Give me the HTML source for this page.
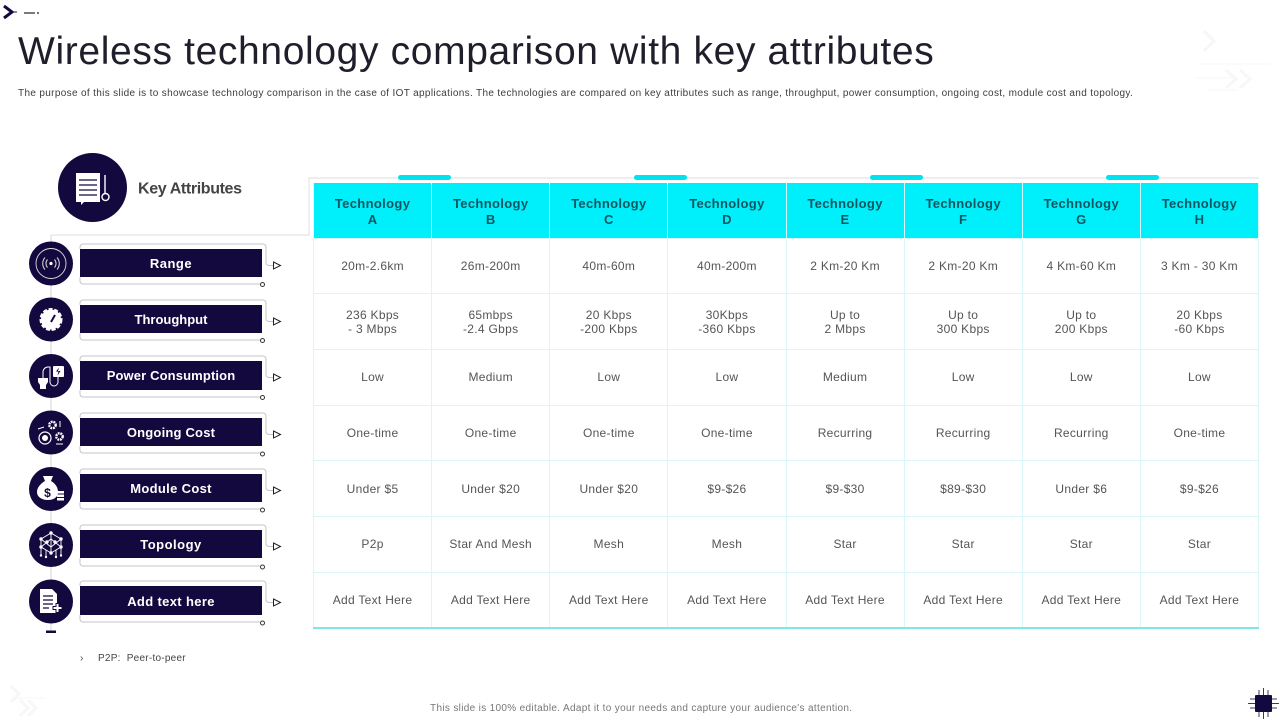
<!DOCTYPE html>
<html lang="en">
<head>
<meta charset="utf-8">
<title>Wireless technology comparison with key attributes</title>
<style>
html,body{margin:0;padding:0;background:#fff;}
body{width:1280px;height:720px;position:relative;overflow:hidden;font-family:"Liberation Sans",sans-serif;}
.abs{position:absolute;white-space:nowrap;}
#title{left:18px;top:30px;font-size:39px;line-height:44px;color:#1f1f2b;letter-spacing:.64px;}
#subtitle{left:18px;top:87px;font-size:10px;line-height:13px;color:#3d3d3d;letter-spacing:.34px;}
#deco{position:absolute;left:0;top:0;}
#deco text{font-family:"Liberation Sans",sans-serif;}
table{position:absolute;left:313px;top:183px;width:946px;height:445.5px;border-collapse:collapse;table-layout:fixed;}
th,td{text-align:center;vertical-align:middle;padding:0;}
th{background:#00f0fb;color:#0c5660;font-size:13px;line-height:16px;font-weight:bold;letter-spacing:.35px;height:55px;box-sizing:border-box;padding-top:3px;border-left:1px solid #d8fbfd;border-right:1px solid #d8fbfd;}
td{color:#555;font-size:12px;line-height:14px;letter-spacing:.3px;border:1px solid #d9f7f9;height:55.7px;box-sizing:border-box;}
tr:last-child td{border-bottom:2px solid #7fe6ea;}
#note{left:98px;top:652px;font-size:10px;line-height:13px;color:#444;letter-spacing:.25px;}
#note-mark{left:80px;top:652px;font-size:10px;line-height:13px;color:#444;}
#footer{left:430px;top:702px;font-size:10px;line-height:13px;color:#777;letter-spacing:.33px;}
</style>
</head>
<body>
<div class="abs" id="title">Wireless technology comparison with key attributes</div>
<div class="abs" id="subtitle">The purpose of this slide is to showcase technology comparison in the case of IOT applications. The technologies are compared on key attributes such as range, throughput, power consumption, ongoing cost, module cost and topology.</div>

<svg id="deco" width="1280" height="720" viewBox="0 0 1280 720">
  <g>
    <path d="M4 6 L12 12 L4 18" fill="none" stroke="#14093f" stroke-width="3"/>
    <path d="M14 12h3" stroke="#8a86a5" stroke-width="2"/>
    <path d="M24 13h11" stroke="#222" stroke-width="1.2"/>
    <circle cx="38" cy="13" r="1" fill="#444"/>
  </g>
  <g fill="none" stroke="#f7f7f8" stroke-width="3">
    <path d="M1204 31l10 10l-10 10"/><path d="M1226 70l10 9l-10 9"/><path d="M1240 70l10 9l-10 9"/>
    <path d="M1200 64h70M1196 78h36M1208 90h30" stroke-width="1"/>
  </g>
  <g fill="none" stroke="#f7f7f8" stroke-width="3">
    <path d="M11 686l8 8l-8 8"/><path d="M20 700l8 8l-8 8"/><path d="M28 700l8 8l-8 8"/>
    <path d="M12 698h34" stroke-width="1"/>
  </g>

  <path d="M51 235H309V178H1259" fill="none" stroke="#e4e4e4" stroke-width="1.2"/>
  <path d="M51 235V632" fill="none" stroke="#dcdcdc" stroke-width="1.2"/>
  <rect x="46" y="630.5" width="10" height="2.5" fill="#14093f"/>

  <rect x="398" y="175" width="53" height="5" rx="2.5" fill="#00e3ee"/>
  <rect x="634" y="175" width="53" height="5" rx="2.5" fill="#00e3ee"/>
  <rect x="870" y="175" width="53" height="5" rx="2.5" fill="#00e3ee"/>
  <rect x="1106" y="175" width="53" height="5" rx="2.5" fill="#00e3ee"/>

  <g>
    <circle cx="92.5" cy="187.5" r="34.5" fill="#14093f"/>
    <path d="M76 173h24v29H84l-3 3v-3h-5z" fill="#fff"/>
    <path d="M79 180h18M79 185h18M79 190h18M79 195h18" stroke="#14093f" stroke-width="1.2"/>
    <path d="M105 175v18" stroke="#fff" stroke-width="1.4"/>
    <circle cx="105.500" cy="197" r="3.500" fill="none" stroke="#fff" stroke-width="1.4"/>
    <text x="138" y="193.500" font-size="16" font-weight="bold" fill="#444" textLength="104">Key Attributes</text>
  </g>

  <!-- Range -->
  <g>
    <circle cx="51" cy="263.500" r="22" fill="#14093f"/>
    <circle cx="51" cy="263.500" r="15" fill="none" stroke="#ddd" stroke-width=".9"/>
    <circle cx="51" cy="263.500" r="1.600" fill="#fff"/>
    <path d="M47.500 259.500a6 6 0 0 0 0 8M54.500 259.500a6 6 0 0 1 0 8M45 257.500a9 9 0 0 0 0 12M57 257.500a9 9 0 0 1 0 12" fill="none" stroke="#ddd" stroke-width="1"/>
    <path d="M80 249v-2a3 3 0 0 1 3-3H263a3 3 0 0 1 3 3v15.500a3 3 0 0 0 3 3h4M80 277v4a3 3 0 0 0 3 3H260" fill="none" stroke="#c4c4c4" stroke-width="1"/>
    <rect x="80" y="249" width="182" height="28" fill="#14093f"/>
    <text x="171" y="268" text-anchor="middle" font-size="13" font-weight="bold" fill="#fff" letter-spacing=".5">Range</text>
    <circle cx="262.500" cy="284.500" r="2" fill="#fff" stroke="#333"/>
    <path d="M273.500 262l7 3.500l-7 3.500z" fill="#fff" stroke="#222"/>
  </g>
  <!-- Throughput -->
  <g>
    <circle cx="51" cy="319.500" r="22" fill="#14093f"/>
    <circle cx="51" cy="319.500" r="9" fill="none" stroke="#fff" stroke-width="5" stroke-dasharray="3.500 1.500"/>
    <circle cx="51" cy="319.500" r="10" fill="#fff"/>
    <path d="M51 322l4-7" stroke="#14093f" stroke-width="2"/>
    <path d="M80 305v-2a3 3 0 0 1 3-3H263a3 3 0 0 1 3 3v15.500a3 3 0 0 0 3 3h4M80 333v4a3 3 0 0 0 3 3H260" fill="none" stroke="#c4c4c4" stroke-width="1"/>
    <rect x="80" y="305" width="182" height="28" fill="#14093f"/>
    <text x="171" y="324" text-anchor="middle" font-size="13" font-weight="bold" fill="#fff" letter-spacing="0">Throughput</text>
    <circle cx="262.500" cy="340.500" r="2" fill="#fff" stroke="#333"/>
    <path d="M273.500 318l7 3.500l-7 3.500z" fill="#fff" stroke="#222"/>
  </g>
  <!-- Power Consumption -->
  <g>
    <circle cx="51" cy="376" r="22" fill="#14093f"/>
    <path d="M38 378h10v4l-2 3v4h-6v-4l-2-3z" fill="#fff"/>
    <path d="M43 378v-6a5 5 0 0 1 5-5h2v15a4 4 0 0 0 8 0v-6" fill="none" stroke="#fff" stroke-width="1"/>
    <rect x="53" y="366" width="11" height="11" rx="1" fill="#fff"/>
    <path d="M59 367.500l-3 4h2.500l-1 4l3-4.500h-2.500z" fill="#14093f"/>
    <path d="M80 361v-2a3 3 0 0 1 3-3H263a3 3 0 0 1 3 3v15.500a3 3 0 0 0 3 3h4M80 390v4a3 3 0 0 0 3 3H260" fill="none" stroke="#c4c4c4" stroke-width="1"/>
    <rect x="80" y="361" width="182" height="29" fill="#14093f"/>
    <text x="171" y="380" text-anchor="middle" font-size="13" font-weight="bold" fill="#fff" letter-spacing=".13">Power Consumption</text>
    <circle cx="262.500" cy="397.500" r="2" fill="#fff" stroke="#333"/>
    <path d="M273.500 374l7 3.500l-7 3.500z" fill="#fff" stroke="#222"/>
  </g>
  <!-- Ongoing Cost -->
  <g>
    <circle cx="51" cy="432.500" r="22" fill="#14093f"/>
    <circle cx="45" cy="438" r="6" fill="none" stroke="#fff" stroke-width="1.200"/>
    <circle cx="45" cy="438" r="3" fill="#fff"/>
    <circle cx="52.500" cy="425" r="3.200" fill="none" stroke="#fff" stroke-width="2.400" stroke-dasharray="1.800 .8"/>
    <circle cx="59.500" cy="436.500" r="3.200" fill="none" stroke="#fff" stroke-width="2.400" stroke-dasharray="1.800 .8"/>
    <path d="M38 429l6-2M60 421v6M56 444h7" stroke="#fff" stroke-width="1"/>
    <path d="M80 418v-2a3 3 0 0 1 3-3H263a3 3 0 0 1 3 3v15.500a3 3 0 0 0 3 3h4M80 446v4a3 3 0 0 0 3 3H260" fill="none" stroke="#c4c4c4" stroke-width="1"/>
    <rect x="80" y="418" width="182" height="28" fill="#14093f"/>
    <text x="171" y="437" text-anchor="middle" font-size="13" font-weight="bold" fill="#fff" letter-spacing=".2">Ongoing Cost</text>
    <circle cx="262.500" cy="454" r="2" fill="#fff" stroke="#333"/>
    <path d="M273.500 431l7 3.500l-7 3.500z" fill="#fff" stroke="#222"/>
  </g>
  <!-- Module Cost -->
  <g>
    <circle cx="51" cy="489" r="22" fill="#14093f"/>
    <path d="M43 476h10l-2 5c5 3 7 7 7 11c0 5-4 8-10 8s-11-3-11-8c0-4 3-8 8-11z" fill="#fff"/>
    <text x="47.500" y="497" text-anchor="middle" font-size="12" font-weight="bold" fill="#14093f">$</text>
    <path d="M57 491h7v2.500h-7zM57 494.500h7v2.500h-7zM57 498h7v2.500h-7z" fill="#fff"/>
    <path d="M80 474v-2a3 3 0 0 1 3-3H263a3 3 0 0 1 3 3v15.500a3 3 0 0 0 3 3h4M80 502v4a3 3 0 0 0 3 3H260" fill="none" stroke="#c4c4c4" stroke-width="1"/>
    <rect x="80" y="474" width="182" height="28" fill="#14093f"/>
    <text x="171" y="493" text-anchor="middle" font-size="13" font-weight="bold" fill="#fff" letter-spacing=".33">Module Cost</text>
    <circle cx="262.500" cy="510" r="2" fill="#fff" stroke="#333"/>
    <path d="M273.500 487l7 3.500l-7 3.500z" fill="#fff" stroke="#222"/>
  </g>
  <!-- Topology -->
  <g>
    <circle cx="51" cy="545" r="22" fill="#14093f"/>
    <path d="M51 533l10 6v8l-10 6l-10-6v-8zM41 539l10 8l10-8M51 533v20M41 547l10-8l10 8M41 547v8M61 547v8M46 550v7M56 550v7" fill="none" stroke="#fff" stroke-width=".9"/>
    <g fill="#fff"><circle cx="51" cy="533" r="1.700"/><circle cx="41" cy="539" r="1.700"/><circle cx="61" cy="539" r="1.700"/><circle cx="41" cy="547" r="1.700"/><circle cx="61" cy="547" r="1.700"/><circle cx="51" cy="553" r="1.700"/><circle cx="47" cy="542" r="1.700"/><circle cx="55" cy="542" r="1.700"/><circle cx="41" cy="555.500" r="1.200"/><circle cx="61" cy="555.500" r="1.200"/><circle cx="46" cy="557" r="1.200"/><circle cx="56" cy="557" r="1.200"/></g>
    <path d="M80 530v-2a3 3 0 0 1 3-3H263a3 3 0 0 1 3 3v15.500a3 3 0 0 0 3 3h4M80 558v5a3 3 0 0 0 3 3H260" fill="none" stroke="#c4c4c4" stroke-width="1"/>
    <rect x="80" y="530" width="182" height="28" fill="#14093f"/>
    <text x="171" y="549" text-anchor="middle" font-size="13" font-weight="bold" fill="#fff" letter-spacing=".5">Topology</text>
    <circle cx="262.500" cy="567" r="2" fill="#fff" stroke="#333"/>
    <path d="M273.500 543l7 3.500l-7 3.500z" fill="#fff" stroke="#222"/>
  </g>
  <!-- Add text here -->
  <g>
    <circle cx="51" cy="601.500" r="22" fill="#14093f"/>
    <path d="M40 589h12l5 5v19H40z" fill="#fff"/>
    <path d="M43 596h10M43 600h10M43 604h10M43 608h6" stroke="#14093f" stroke-width="1.200"/>
    <path d="M57.500 603v10M52.500 608h10" stroke="#14093f" stroke-width="4"/>
    <path d="M57.500 604v8M53.500 608h8" stroke="#fff" stroke-width="2"/>
    <path d="M80 586v-2a3 3 0 0 1 3-3H263a3 3 0 0 1 3 3v15.500a3 3 0 0 0 3 3h4M80 615v4a3 3 0 0 0 3 3H260" fill="none" stroke="#c4c4c4" stroke-width="1"/>
    <rect x="80" y="586" width="182" height="29" fill="#14093f"/>
    <text x="171" y="606" text-anchor="middle" font-size="13" font-weight="bold" fill="#fff" letter-spacing=".35">Add text here</text>
    <circle cx="262.500" cy="623" r="2" fill="#fff" stroke="#333"/>
    <path d="M273.500 599l7 3.500l-7 3.500z" fill="#fff" stroke="#222"/>
  </g>

  <g>
    <rect x="1255" y="695" width="17" height="17" rx="1" fill="#14093f"/>
    <path d="M1259 695v-5M1263.500 695v-7M1268 695v-5M1259 712v5M1263.500 712v7M1268 712v5M1255 699h-5M1255 703.500h-7M1255 708h-5M1272 699h5M1272 703.500h7M1272 708h5" stroke="#3d3566" stroke-width="1" fill="none"/>
  </g>
</svg>

<table>
  <thead>
    <tr>
      <th>Technology<br>A</th>
      <th>Technology<br>B</th>
      <th>Technology<br>C</th>
      <th>Technology<br>D</th>
      <th>Technology<br>E</th>
      <th>Technology<br>F</th>
      <th>Technology<br>G</th>
      <th>Technology<br>H</th>
    </tr>
  </thead>
  <tbody>
    <tr><td>20m-2.6km</td><td>26m-200m</td><td>40m-60m</td><td>40m-200m</td><td>2 Km-20 Km</td><td>2 Km-20 Km</td><td>4 Km-60 Km</td><td>3 Km - 30 Km</td></tr>
    <tr><td>236 Kbps<br>- 3 Mbps</td><td>65mbps<br>-2.4 Gbps</td><td>20 Kbps<br>-200 Kbps</td><td>30Kbps<br>-360 Kbps</td><td>Up to<br>2 Mbps</td><td>Up to<br>300 Kbps</td><td>Up to<br>200 Kbps</td><td>20 Kbps<br>-60 Kbps</td></tr>
    <tr><td>Low</td><td>Medium</td><td>Low</td><td>Low</td><td>Medium</td><td>Low</td><td>Low</td><td>Low</td></tr>
    <tr><td>One-time</td><td>One-time</td><td>One-time</td><td>One-time</td><td>Recurring</td><td>Recurring</td><td>Recurring</td><td>One-time</td></tr>
    <tr><td>Under $5</td><td>Under $20</td><td>Under $20</td><td>$9-$26</td><td>$9-$30</td><td>$89-$30</td><td>Under $6</td><td>$9-$26</td></tr>
    <tr><td>P2p</td><td>Star And Mesh</td><td>Mesh</td><td>Mesh</td><td>Star</td><td>Star</td><td>Star</td><td>Star</td></tr>
    <tr><td>Add Text Here</td><td>Add Text Here</td><td>Add Text Here</td><td>Add Text Here</td><td>Add Text Here</td><td>Add Text Here</td><td>Add Text Here</td><td>Add Text Here</td></tr>
  </tbody>
</table>

<div class="abs" id="note-mark">›</div>
<div class="abs" id="note">P2P:&nbsp; Peer-to-peer</div>
<div class="abs" id="footer">This slide is 100% editable. Adapt it to your needs and capture your audience's attention.</div>
</body>
</html>
